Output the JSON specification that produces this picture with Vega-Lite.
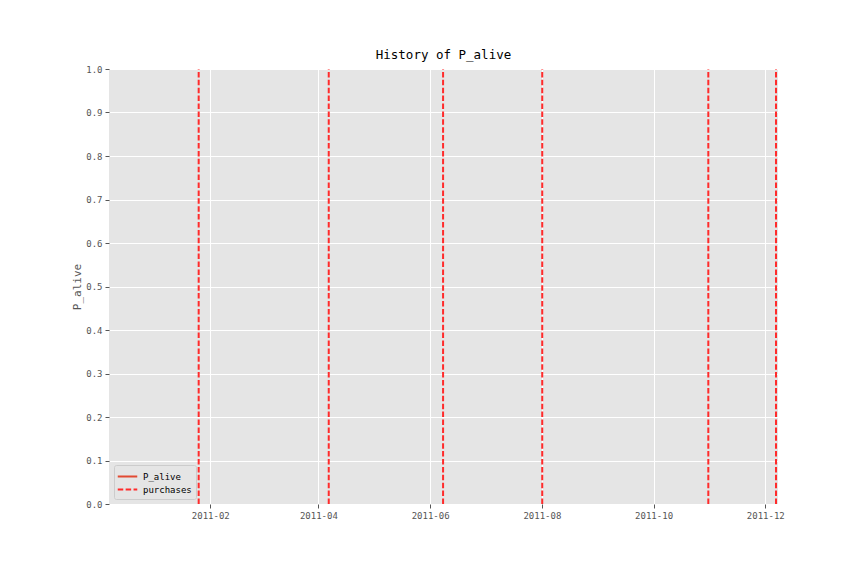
{
  "$schema": "https://vega.github.io/schema/vega-lite/v6.json",
  "autosize": {"type": "none"},
  "padding": {"left": 109, "top": 69, "right": 86, "bottom": 72},
  "width": 669,
  "height": 435,
  "title": {
    "text": "History of P_alive",
    "font": "DejaVu Sans Mono",
    "fontSize": 12.5,
    "fontWeight": "normal",
    "color": "#000000",
    "anchor": "middle",
    "offset": 4
  },
  "data": {
    "values": [
      {"date": "2011-01-25T16:00:00Z", "series": "purchases"},
      {"date": "2011-04-06T16:00:00Z", "series": "purchases"},
      {"date": "2011-06-08T02:00:00Z", "series": "purchases"},
      {"date": "2011-08-01T05:00:00Z", "series": "purchases"},
      {"date": "2011-10-30T21:00:00Z", "series": "purchases"},
      {"date": "2011-12-06T20:00:00Z", "series": "purchases"}
    ]
  },
  "mark": {"type": "rule", "strokeWidth": 2},
  "encoding": {
    "x": {
      "field": "date",
      "type": "temporal",
      "scale": {
        "type": "utc",
        "domain": [
          {"year": 2010, "month": 12, "date": 7, "hours": 17, "utc": true},
          {"year": 2011, "month": 12, "date": 7, "hours": 22, "utc": true}
        ]
      },
      "axis": {
        "title": null,
        "format": "%Y-%m",
        "values": [
          {"year": 2011, "month": 2, "date": 1, "utc": true},
          {"year": 2011, "month": 4, "date": 1, "utc": true},
          {"year": 2011, "month": 6, "date": 1, "utc": true},
          {"year": 2011, "month": 8, "date": 1, "utc": true},
          {"year": 2011, "month": 10, "date": 1, "utc": true},
          {"year": 2011, "month": 12, "date": 1, "utc": true}
        ]
      }
    },
    "y": {
      "datum": 0,
      "type": "quantitative",
      "scale": {"domain": [0, 1], "nice": false, "zero": false},
      "axis": {
        "title": "P_alive",
        "values": [0, 0.1, 0.2, 0.3, 0.4, 0.5, 0.6, 0.7, 0.8, 0.9, 1.0],
        "format": ".1f",
        "titlePadding": 3
      }
    },
    "y2": {"datum": 1},
    "color": {
      "field": "series",
      "type": "nominal",
      "scale": {"domain": ["P_alive", "purchases"], "range": ["#E24A33", "#FF2B2B"]},
      "legend": {"title": null}
    },
    "strokeDash": {
      "field": "series",
      "type": "nominal",
      "scale": {"domain": ["P_alive", "purchases"], "range": [[1, 0], [5.5, 2.4]]},
      "legend": {"title": null}
    }
  },
  "config": {
    "view": {"fill": "#E5E5E5", "stroke": null},
    "axis": {
      "domain": false,
      "grid": true,
      "gridColor": "#FFFFFF",
      "gridWidth": 1,
      "tickColor": "#555555",
      "tickSize": 4,
      "labelColor": "#555555",
      "labelFont": "DejaVu Sans Mono",
      "labelFontSize": 9,
      "labelPadding": 3,
      "titleFont": "DejaVu Sans Mono",
      "titleFontSize": 11,
      "titleFontWeight": "normal",
      "titleColor": "#555555"
    },
    "legend": {
      "orient": "bottom-left",
      "offset": 5,
      "padding": 4,
      "fillColor": "#E5E5E5",
      "strokeColor": "#CCCCCC",
      "cornerRadius": 2,
      "symbolType": "M-1.5,0H1.5",
      "symbolSize": 169,
      "symbolStrokeWidth": 2,
      "symbolFillColor": "transparent",
      "symbolOffset": 2,
      "labelFont": "DejaVu Sans Mono",
      "labelFontSize": 9,
      "labelColor": "#000000",
      "labelOffset": 8,
      "rowPadding": 0
    }
  }
}
